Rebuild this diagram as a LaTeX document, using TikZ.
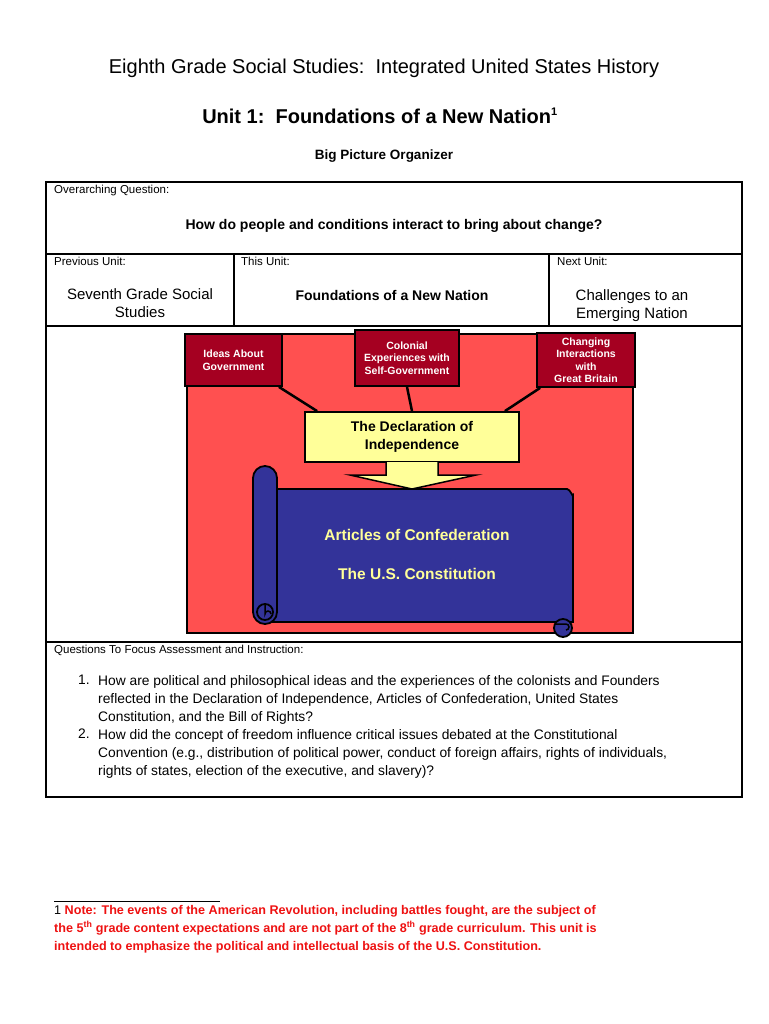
\documentclass[tikz,border=0pt]{standalone}
\usepackage{fontspec}
\setmainfont{Liberation Sans}
\definecolor{bgred}{HTML}{FF5050}
\definecolor{dred}{HTML}{A50021}
\definecolor{ylw}{HTML}{FFFF99}
\definecolor{blu}{HTML}{333399}
\definecolor{notered}{HTML}{EE1111}
\begin{document}
\begin{tikzpicture}[x=1pt,y=-1pt,
  cell/.style={draw,line width=1.5pt},
  small/.style={font=\fontsize{11.5}{13}\selectfont,anchor=north west,inner sep=0},
  dbox/.style={draw,line width=1.8pt,fill=dred,text=white,font=\bfseries\fontsize{10.5}{12.5}\selectfont,align=center,inner sep=0},
  link/.style={line width=2.5pt},
  qtext/.style={anchor=north west,inner sep=0,align=left,font=\fontsize{13.8}{18}\selectfont}]
\useasboundingbox (0,0) rectangle (768,1024);
\node (t1) at (384,68) {\fontsize{20}{24}\selectfont Eighth Grade Social Studies:\ \ Integrated United States History};
\node (t2) at (380,116) {\bfseries\fontsize{20}{24}\selectfont Unit 1:\ \ Foundations of a New Nation\textsuperscript{\fontsize{11}{11}\selectfont 1}};
\node (t3) at (384,156) {\bfseries\fontsize{13.5}{16}\selectfont Big Picture Organizer};
% table
\draw[cell] (46,182) rectangle (742,797);
\draw[cell] (46,254) -- (742,254);
\draw[cell] (46,326) -- (742,326);
\draw[cell] (46,642) -- (742,642);
\draw[cell] (234,254) -- (234,326);
\draw[cell] (549,254) -- (549,326);
\node[small] (oq) at (54,185) {Overarching Question:};
\node (q) at (394,226) {\bfseries\fontsize{14}{16}\selectfont How do people and conditions interact to bring about change?};
\node[small] (pu) at (54,257) {Previous Unit:};
\node[small] (tu) at (241,257) {This Unit:};
\node[small] (nu) at (557,257) {Next Unit:};
\node[align=center,font=\fontsize{15}{18}\selectfont] (pv) at (140,303) {Seventh Grade Social\\Studies};
\node[font=\bfseries\fontsize{14}{16}\selectfont] (tv) at (392,295) {Foundations of a New Nation};
\node[align=center,font=\fontsize{15}{18}\selectfont] (nv) at (632,306) {Challenges to an\\Emerging Nation};
% graphic
\fill[bgred,draw=black,line width=1.8pt] (187,334) rectangle (633,633);
\node[dbox,minimum width=97,minimum height=52] (b1) at (233.5,360) {Ideas About\\Government};
\node[dbox,minimum width=104,minimum height=56] (b2) at (407,358) {Colonial\\Experiences with\\Self-Government};
\node[dbox,minimum width=98,minimum height=54] (b3) at (586,360) {Changing\\Interactions\\with\\Great Britain};
\node[draw,line width=1.8pt,fill=ylw,minimum width=214,minimum height=50,align=center,font=\bfseries\fontsize{14}{18}\selectfont,inner sep=0] (dec) at (412,437) {The Declaration of\\Independence};
\draw[link] ([xshift=-4]b1.south east) -- ([xshift=13]dec.north west);
\draw[link] (b2.south) -- (dec.north);
\draw[link] ([xshift=4]b3.south west) -- ([xshift=-15]dec.north east);
\draw[line width=1.5pt,fill=ylw] (386,462) -- (386,475) -- (350,475) -- (412,489) -- (476,475) -- (438,475) -- (438,462);
% scroll
\draw[line width=1.8pt,fill=blu] (262,489) -- (567,489) to[out=0,in=-90] (573,495) -- (573,622) -- (262,622) -- cycle;
\draw[line width=1.8pt,fill=blu] (253,478) arc (180:360:12) -- (277,612) arc (0:180:12) -- cycle;
\draw[line width=1.8pt,fill=blu] (265,612) circle (8);
\draw[line width=1.5pt] (265,604) -- (265,614) arc (180:360:3);
\draw[line width=1.8pt,fill=blu] (563,628) circle (9);
\draw[line width=1.5pt] (555,624) -- (566,624) arc (-90:90:3);
\node[text=ylw,font=\bfseries\fontsize{15.5}{18}\selectfont] (aoc) at (417,535) {Articles of Confederation};
\node[text=ylw,font=\bfseries\fontsize{15.5}{18}\selectfont] (usc) at (417,574) {The U.S. Constitution};
% questions
\node[small] (qf) at (54,645) {Questions To Focus Assessment and Instruction:};
\node[qtext] (n1) at (78,675) {1.};
\node[qtext] (q1) at (98,675) {How are political and philosophical ideas and the experiences of the colonists and Founders\\reflected in the Declaration of Independence, Articles of Confederation, United States\\Constitution, and the Bill of Rights?};
\node[qtext] (n2) at (78,729) {2.};
\node[qtext] (q2) at (98,729) {How did the concept of freedom influence critical issues debated at the Constitutional\\Convention (e.g., distribution of political power, conduct of foreign affairs, rights of individuals,\\rights of states, election of the executive, and slavery)?};
% footnote
\draw[line width=1pt] (54,901) -- (220,901);
\node[anchor=north west,inner sep=0,align=left,font=\bfseries\fontsize{12.6}{18}\selectfont,text=notered] (fn) at (54,905) {%
{\color{black}\mdseries 1} Note: The events of the American Revolution, including battles fought, are the subject of\\the 5\textsuperscript{th} grade content expectations and are not part of the 8\textsuperscript{th} grade curriculum. This unit is\\intended to emphasize the political and intellectual basis of the U.S. Constitution.};
\end{tikzpicture}
\end{document}
